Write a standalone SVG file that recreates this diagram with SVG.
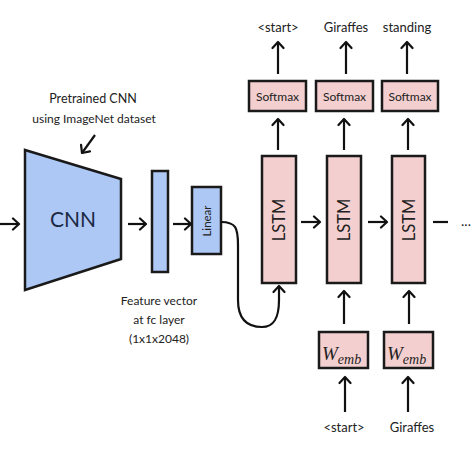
<svg xmlns="http://www.w3.org/2000/svg" width="474" height="474" viewBox="0 0 474 474">
<defs>
<marker id="ah" markerUnits="userSpaceOnUse" markerWidth="14" markerHeight="14" refX="11" refY="7" orient="auto" viewBox="0 0 14 14">
<path d="M5,1.5 L11,7 L5,12.5" fill="none" stroke="#111" stroke-width="2.2" stroke-linecap="round" stroke-linejoin="round"/>
</marker>
</defs>
<style>
.blue{fill:#aec8f5;stroke:#1a1a1a;stroke-width:2.5}
.pink{fill:#f4cfcf;stroke:#1a1a1a;stroke-width:2.5}
.t{font-family:Lato,"Liberation Sans",sans-serif;fill:#222;text-anchor:middle}
.a{fill:none;stroke:#111;stroke-width:2.2;marker-end:url(#ah)}
.w{font-family:"Liberation Serif",serif;font-style:italic;fill:#222}
</style>
<rect width="474" height="474" fill="#fff"/>
<g id="labels">
<text class="t" x="93" y="103" font-size="12.5">Pretrained CNN</text>
<text class="t" x="94" y="123" font-size="12">using ImageNet dataset</text>
<text class="t" x="159" y="305" font-size="12">Feature vector</text>
<text class="t" x="159" y="324" font-size="12">at fc layer</text>
<text class="t" x="159" y="343" font-size="12">(1x1x2048)</text>
<text class="t" x="278" y="32" font-size="13">&lt;start&gt;</text>
<text class="t" x="346" y="32" font-size="13">Giraffes</text>
<text class="t" x="407" y="32" font-size="13">standing</text>
<text class="t" x="344" y="432" font-size="13">&lt;start&gt;</text>
<text class="t" x="412" y="432" font-size="13">Giraffes</text>
<text class="t" x="466" y="226" font-size="14">...</text>
</g>
<g id="cnn">
<polygon class="blue" points="25,150 121,179 121,259 25,290"/>
<text x="73" y="227" font-size="21" font-family="Lato,'Liberation Sans',sans-serif" fill="#1a2a44" text-anchor="middle">CNN</text>
</g>
<g id="feature">
<rect class="blue" x="152" y="171" width="16" height="101"/>
</g>
<g id="linear">
<rect class="blue" x="192" y="187" width="29" height="67"/>
<text class="t" font-size="11.5" fill="#1a2a44" transform="translate(211,221) rotate(-90)">Linear</text>
</g>
<g id="lstm1">
<rect class="pink" x="262" y="156" width="34" height="127"/>
<text class="t" font-size="16.5" transform="translate(285,220) rotate(-90)">LSTM</text>
</g>
<g id="lstm2">
<rect class="pink" x="327" y="156" width="34" height="127"/>
<text class="t" font-size="16.5" transform="translate(350,220) rotate(-90)">LSTM</text>
</g>
<g id="lstm3">
<rect class="pink" x="392" y="156" width="33" height="127"/>
<text class="t" font-size="16.5" transform="translate(414.5,220) rotate(-90)">LSTM</text>
</g>
<g id="softmax1">
<rect class="pink" x="249" y="81" width="57" height="30"/>
<text class="t" x="277.5" y="100.5" font-size="12">Softmax</text>
</g>
<g id="softmax2">
<rect class="pink" x="316" y="81" width="57" height="30"/>
<text class="t" x="344.5" y="100.5" font-size="12">Softmax</text>
</g>
<g id="softmax3">
<rect class="pink" x="382" y="81" width="56" height="30"/>
<text class="t" x="410" y="100.5" font-size="12">Softmax</text>
</g>
<g id="wemb1">
<rect class="pink" x="319" y="332" width="49" height="36"/>
<text class="w" x="322" y="360" font-size="19">W<tspan font-size="14" dy="4">emb</tspan></text>
</g>
<g id="wemb2">
<rect class="pink" x="384" y="332" width="49" height="36"/>
<text class="w" x="387" y="360" font-size="19">W<tspan font-size="14" dy="4">emb</tspan></text>
</g>
<g id="connectors">
<line class="a" x1="0" y1="224" x2="19" y2="224"/>
<line class="a" x1="128" y1="224" x2="146" y2="224"/>
<line class="a" x1="173" y1="224" x2="191" y2="224"/>
<path class="a" d="M221,222 C236,222 238,228 238,245 L238,300 C238,322 250,327 262,327 C274,327 279,318 279,300 L279,286"/>
<line class="a" x1="301" y1="222" x2="320" y2="222"/>
<line class="a" x1="368" y1="222" x2="387" y2="222"/>
<line x1="433" y1="222" x2="448" y2="222" stroke="#111" stroke-width="2.2"/>
<line class="a" x1="278" y1="150" x2="278" y2="119"/>
<line class="a" x1="344" y1="150" x2="344" y2="119"/>
<line class="a" x1="408" y1="150" x2="408" y2="119"/>
<line class="a" x1="278" y1="74" x2="278" y2="42"/>
<line class="a" x1="346" y1="74" x2="346" y2="42"/>
<line class="a" x1="407" y1="74" x2="407" y2="42"/>
<line class="a" x1="344" y1="324" x2="344" y2="291"/>
<line class="a" x1="409" y1="324" x2="409" y2="291"/>
<line class="a" x1="345" y1="412" x2="345" y2="377"/>
<line class="a" x1="408" y1="412" x2="408" y2="377"/>
<line class="a" x1="95" y1="135" x2="82" y2="153"/>
</g>
</svg>
